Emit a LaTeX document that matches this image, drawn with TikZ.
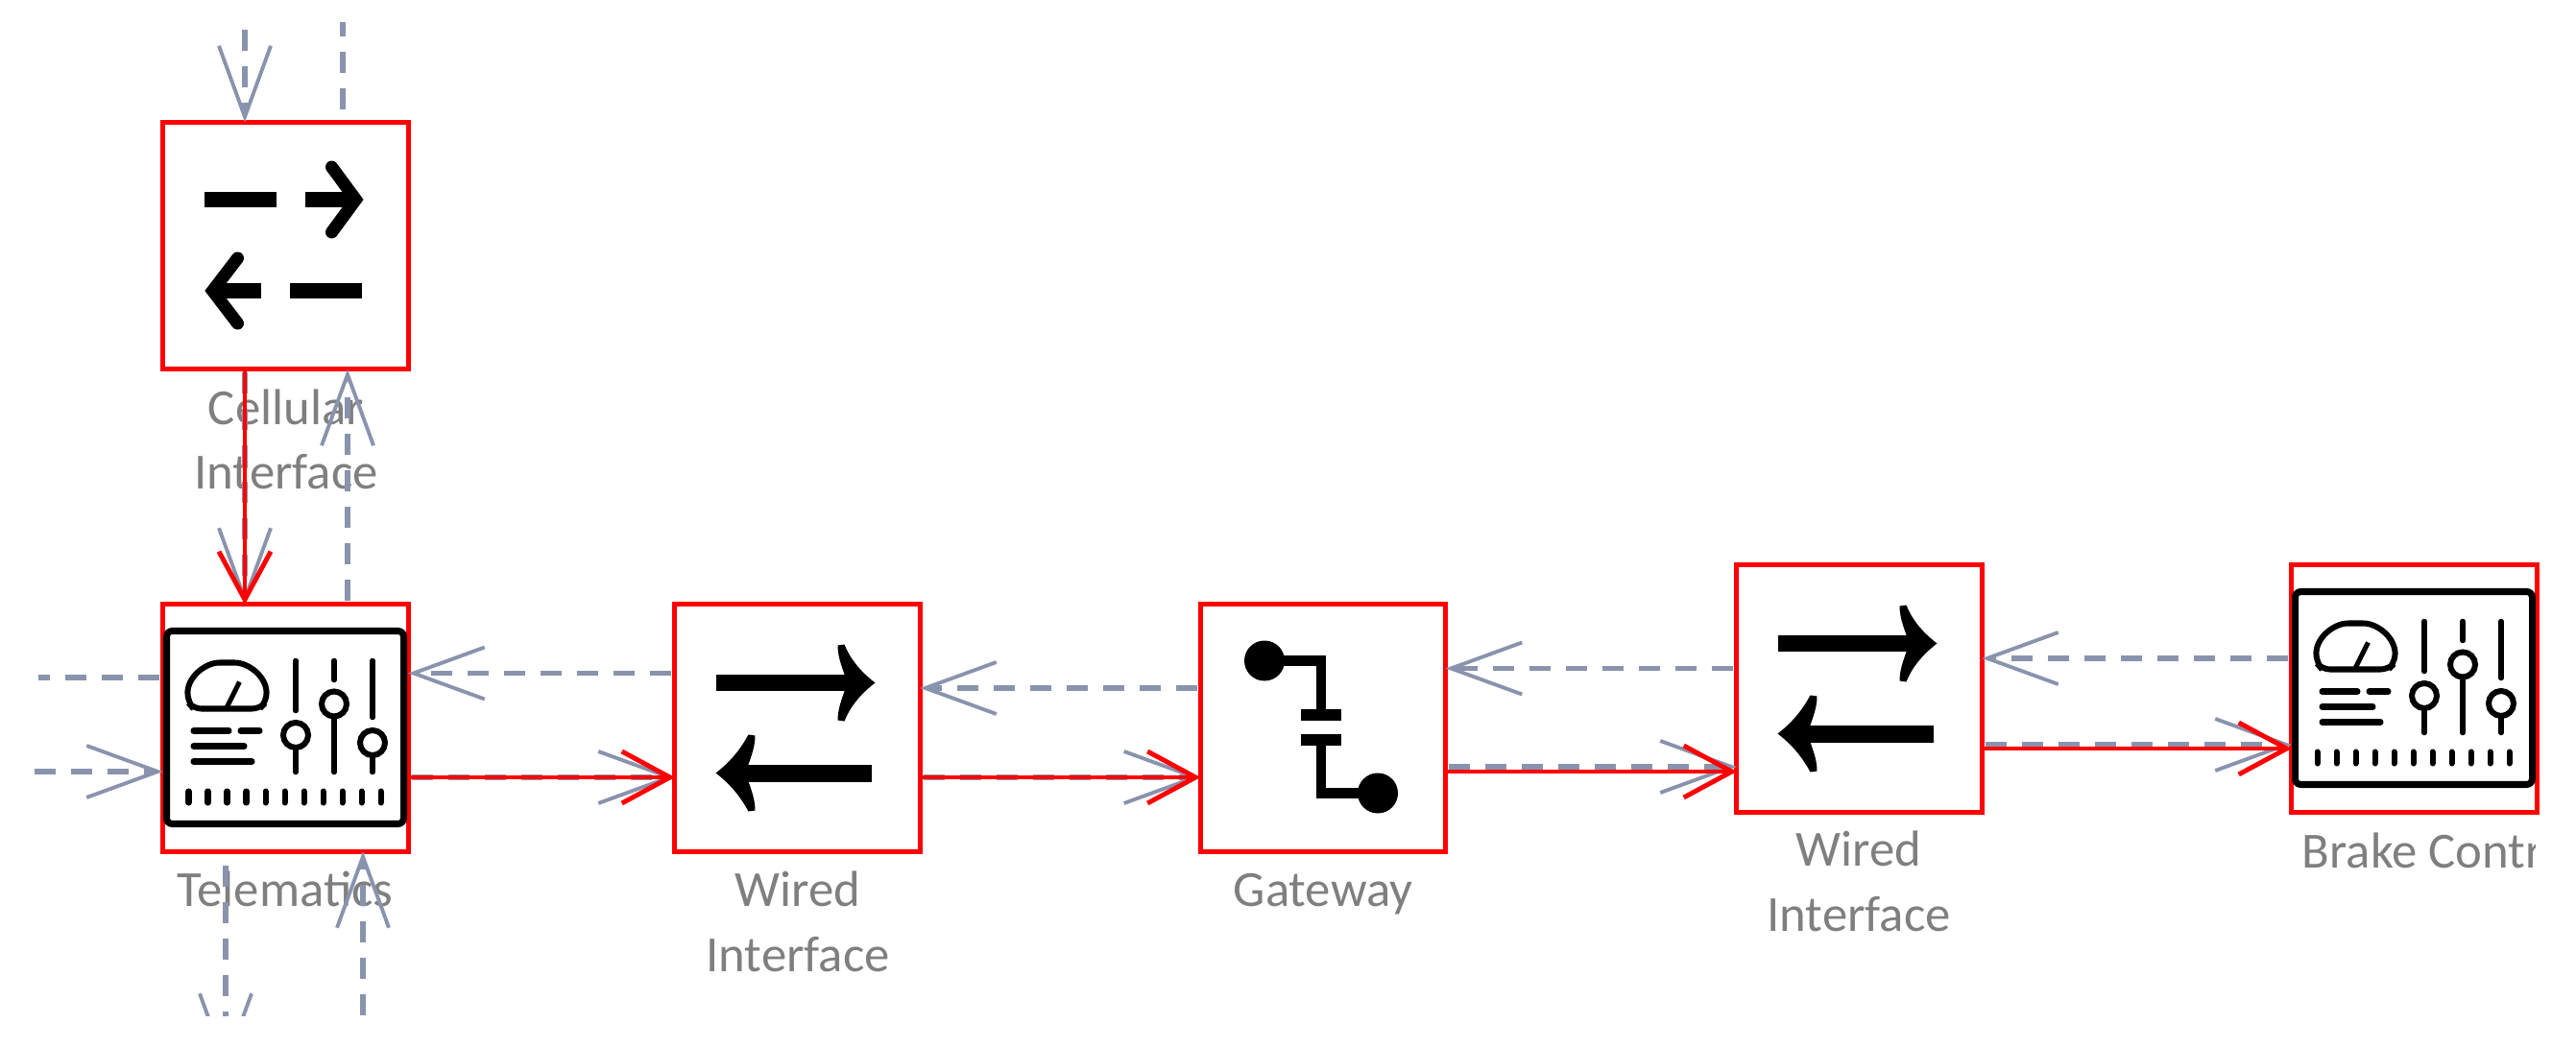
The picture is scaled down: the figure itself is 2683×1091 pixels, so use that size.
\documentclass[tikz,border=0pt]{standalone}
\usepackage{fontspec}
\setmainfont{Carlito}
\usetikzlibrary{arrows.meta}
\definecolor{flowgray}{HTML}{8A93AD}
\definecolor{labelgray}{HTML}{7F7F7F}
\begin{document}
\begin{tikzpicture}[x=0.01cm,y=-0.01cm,
    box/.style={draw=red,line width=1.4pt,inner sep=0pt,outer sep=0pt,minimum width=2.55cm,minimum height=2.57cm},
    lbl/.style={text=labelgray,align=center,inner sep=0pt,font=\fontsize{15}{19.3}\selectfont},
    grayline/.style={draw=flowgray,line width=1.5pt,dash pattern=on 0.22cm off 0.16cm,shorten <=1pt},
    grayflow/.style={grayline,-{Straight Barb[length=0.74cm,width=0.54cm,line width=1.1pt]}},
    redflow/.style={draw=red,line width=1.4pt,-{Straight Barb[length=0.5cm,width=0.54cm]}},
    swapicon/.pic={
      \fill (-85,-56) rectangle (60,-39);
      \fill (81,-47) .. controls (64,-60) and (54,-74) .. (49,-87) -- (42,-86) .. controls (42,-72) and (48,-60) .. (52,-47)
        .. controls (48,-34) and (42,-22) .. (42,-8) -- (49,-7) .. controls (54,-20) and (64,-34) .. (81,-47) -- cycle;
      \fill (-60,38) rectangle (77,56);
      \fill (-85,47) .. controls (-68,34) and (-58,20) .. (-51,7) -- (-44,8) .. controls (-44,22) and (-50,34) .. (-54,47)
        .. controls (-50,60) and (-44,72) .. (-44,86) -- (-51,87) .. controls (-58,74) and (-68,60) .. (-85,47) -- cycle;
    },
    cellicon/.pic={
      \draw[line width=0.16cm] (-85,-48) -- (-10,-48);
      \draw[line width=0.16cm] (20,-48) -- (66,-48);
      \draw[line width=0.13cm,line cap=round] (48,-82) -- (73,-48) -- (48,-14);
      \draw[line width=0.16cm] (79,47) -- (4,47);
      \draw[line width=0.16cm] (-26,47) -- (-70,47);
      \draw[line width=0.13cm,line cap=round] (-50,13) -- (-76,47) -- (-50,81);
    },
    gateicon/.pic={
      \fill (-61,-70) circle (21);
      \fill (57,68) circle (21);
      \draw[line width=0.105cm] (-61,-70) -- (-2,-70) -- (-2,-14);
      \draw[line width=0.11cm] (-23,-13.5) -- (19,-13.5);
      \draw[line width=0.11cm] (-23,12.5) -- (19,12.5);
      \draw[line width=0.105cm] (-2,12.5) -- (-2,68) -- (57,68);
    },
    panelicon/.pic={
      \draw[line width=0.07cm,rounded corners=0.06cm] (-124,-101) rectangle (123,100);
      \draw[line width=0.06cm,rounded corners=0.08cm] (-96,-20) -- (-27,-20) -- (-21,-26) .. controls (-18,-52) and (-38,-68) .. (-61,-68) .. controls (-84,-68) and (-104,-52) .. (-101,-26) -- cycle;
      \draw[line width=0.05cm] (-62,-20) -- (-48,-48);
      \draw[line width=0.06cm,line cap=round]
        (-96,3) -- (-59,3) (-47,3) -- (-27,3) (-96,19) -- (-43,19) (-96,35) -- (-35,35);
      \draw[line width=0.055cm,line cap=round]
        (10.5,-70) -- (10.5,-18) (10.5,22) -- (10.5,46)
        (50.5,-70) -- (50.5,-50) (50.5,-11) -- (50.5,46)
        (90.5,-70) -- (90.5,-11) (90.5,29) -- (90.5,46);
      \draw[line width=0.06cm] (10.5,7.5) circle (13) (50.5,-25) circle (13) (90.5,15.5) circle (13);
      \foreach \tickx in {0,...,10}
        \draw[line width=0.06cm,line cap=round] (-101+20*\tickx,66) -- (-101+20*\tickx,78);
    }
  ]
  \useasboundingbox (0,0) rectangle (2683,1091);

  \node[box] (cellular) at (297.5,256) {};
  \node[box] (telematics) at (297.5,758.5) {};
  \node[box] (wireda) at (830.5,758.5) {};
  \node[box] (gateway) at (1378,758.5) {};
  \node[box] (wiredb) at (1936.5,717.5) {};
  \node[box] (brake) at (2514.5,717.5) {};

  \pic at (cellular) {cellicon};
  \pic at (telematics) {panelicon};
  \pic at (wireda) {swapicon};
  \pic at (gateway) {gateicon};
  \pic at (wiredb) {swapicon};
  \pic at (brake) {panelicon};

  \node[lbl,anchor=base] (cellularlbl) at (298,510) {Cellular\\Interface};
  \node[lbl,anchor=base] (telematicslbl) at (297,944) {Telematics};
  \node[lbl,anchor=base] (wiredalbl) at (831,1012) {Wired\\Interface};
  \node[lbl,anchor=base] (gatewaylbl) at (1378,944) {Gateway};
  \node[lbl,anchor=base] (wiredblbl) at (1936,970) {Wired\\Interface};
  \begin{scope}
    \clip (2380,860) rectangle (2640,930);
    \node[lbl,anchor=base west] (brakelbl) at (2397,904) {Brake Contr};
  \end{scope}

  \coordinate (cellin) at (255,27);
  \coordinate (cellout) at (357,23);
  \coordinate (cellback) at (362,630);
  \coordinate (teleoutw) at (40,706);
  \coordinate (teleinw) at (32,804);
  \coordinate (teleouts) at (235,1115);
  \coordinate (teleins) at (378,1062);

  \begin{scope}
    \clip (0,0) rectangle (2683,1058);
    \draw[grayflow] (cellin) -- (cellular.north -| cellin);
    \draw[grayline,shorten <=13*0.01cm] (cellular.north -| cellout) -- (cellout);
    \draw[grayflow] (telematics.north -| cellback) -- (cellular.south -| cellback);
    \draw[grayflow] (cellular.south -| cellin) -- (telematics.north -| cellin);
    \draw[grayline] (telematics.west |- teleoutw) -- (teleoutw);
    \draw[grayflow] (teleinw) -- (telematics.west |- teleinw);
    \draw[grayflow] (teleins) -- (telematics.south -| teleins);
    \draw[grayflow,shorten <=15*0.01cm] (telematics.south -| teleouts) -- (teleouts);
  \end{scope}
  \draw[grayflow] (wireda.west |- 0,701.5) -- (telematics.east |- 0,701.5);
  \draw[grayflow] (telematics.east |- 0,810) -- (wireda.west |- 0,810);
  \draw[grayflow] (gateway.west |- 0,717) -- (wireda.east |- 0,717);
  \draw[grayflow] (wireda.east |- 0,810) -- (gateway.west |- 0,810);
  \draw[grayflow] (wiredb.west |- 0,696.5) -- (gateway.east |- 0,696.5);
  \draw[grayflow] (gateway.east |- 0,799) -- (wiredb.west |- 0,799);
  \draw[grayflow] (brake.west |- 0,686) -- (wiredb.east |- 0,686);
  \draw[grayflow] (wiredb.east |- 0,776) -- (brake.west |- 0,776);

  \draw[redflow] (cellular.south -| cellin) -- (telematics.north -| cellin);
  \draw[redflow] (telematics.east |- 0,810) -- (wireda.west |- 0,810);
  \draw[redflow] (wireda.east |- 0,810) -- (gateway.west |- 0,810);
  \draw[redflow] (gateway.east |- 0,804) -- (wiredb.west |- 0,804);
  \draw[redflow] (wiredb.east |- 0,780) -- (brake.west |- 0,780);
\end{tikzpicture}
\end{document}
